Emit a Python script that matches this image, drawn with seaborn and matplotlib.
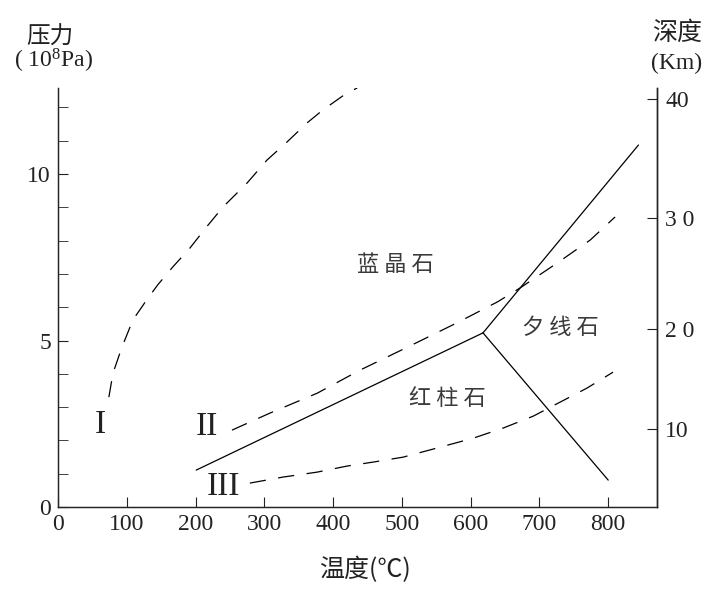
import numpy as np
import pandas as pd
import matplotlib
matplotlib.use("Agg")
import matplotlib.pyplot as plt
import seaborn as sns
from matplotlib.ticker import MultipleLocator

# curve I (dashed)
t_1 = [74, 80, 93, 109, 129, 145, 167, 192, 216, 240, 275, 304, 333, 362, 385, 420, 435]
p_1 = [3.30, 4.02, 4.80, 5.62, 6.22, 6.67, 7.21, 7.78, 8.41, 9.01, 9.73, 10.42, 10.96, 11.53, 11.92, 12.43, 12.58]

# curve II (dashed)
t_2 = [253, 308, 377, 439, 508, 580, 639, 672, 726, 774, 810]
p_2 = [2.31, 2.82, 3.42, 4.11, 4.80, 5.53, 6.16, 6.58, 7.33, 8.02, 8.71]

# curve III (dashed)
t_3 = [279, 327, 377, 420, 458, 502, 556, 604, 647, 691, 730, 769, 807]
p_3 = [0.72, 0.90, 1.05, 1.23, 1.35, 1.50, 1.80, 2.07, 2.37, 2.73, 3.15, 3.57, 4.05]

# phase boundaries (solid), triple point at (618, 5.23)
ky_and_t = [201, 618]
ky_and_p = [1.11, 5.23]
ky_sil_t = [618, 844]
ky_sil_p = [5.23, 10.87]
and_sil_t = [618, 800]
and_sil_p = [5.23, 0.81]

x_ticks = [0, 100, 200, 300, 400, 500, 600, 700, 800]
y_ticks = [0, 5, 10]
depth_pos = [2.34, 5.35, 8.68, 12.25]
depth_labels = ["10", "2 0", "3 0", "40"]

sns.set_style("ticks")
plt.rcParams["font.family"] = ["Liberation Serif", "DejaVu Serif"]
plt.rcParams["mathtext.default"] = "regular"
cjk = ["Noto Sans CJK SC", "DejaVu Sans"]

fig = plt.figure(figsize=(7.13, 5.91), dpi=100)
ax = fig.add_axes([0.0813, 0.142, 0.8402, 0.709])

dash = (0, (13, 10))
for t, p in [(t_1, p_1), (t_2, p_2), (t_3, p_3)]:
    df = pd.DataFrame({"t": t, "p": p})
    sns.lineplot(data=df, x="t", y="p", ax=ax, color="black", lw=0.9,
                 sort=False, estimator=None, linestyle=dash)
for t, p in [(ky_and_t, ky_and_p), (ky_sil_t, ky_sil_p), (and_sil_t, and_sil_p)]:
    df = pd.DataFrame({"t": t, "p": p})
    sns.lineplot(data=df, x="t", y="p", ax=ax, color="black", lw=0.9,
                 sort=False, estimator=None)

ax.set_xlim(0, 871)
ax.set_ylim(0, 12.58)
ax.set_xlabel("")
ax.set_ylabel("")
ax.set_xticks(x_ticks)
ax.set_yticks(y_ticks)
ax.yaxis.set_minor_locator(MultipleLocator(1))
ax.tick_params(axis="both", which="both", direction="in", color="#222222",
               labelsize=17, labelcolor="#222222", pad=5)
ax.tick_params(axis="y", which="major", length=7)
ax.tick_params(axis="y", which="minor", length=7)
ax.tick_params(axis="x", length=7)
ax.spines["top"].set_visible(False)
for s in ["left", "bottom", "right"]:
    ax.spines[s].set_linewidth(1.0)
    ax.spines[s].set_color("#222222")

ax2 = ax.twinx()
ax2.set_ylim(0, 12.58)
ax2.set_yticks(depth_pos)
ax2.set_yticklabels(depth_labels)
ax2.tick_params(axis="y", direction="in", length=7, labelsize=17,
                color="#222222", labelcolor="#222222", pad=6)
ax2.spines["top"].set_visible(False)
ax2.spines["right"].set_linewidth(1.0)
ax2.spines["right"].set_color("#222222")

# curve labels
ax.text(61, 2.46, "I", fontsize=24, ha="center", va="center", color="#222222")
ax.text(217, 2.4, "II", fontsize=24, ha="center", va="center", color="#222222")
ax.text(240, 0.62, "III", fontsize=24, ha="center", va="center", color="#222222")

# mineral fields
ax.text(490, 7.27, "蓝 晶 石", family=cjk, fontsize=16, ha="center", va="center", color="#3a3a3a")
ax.text(730, 5.38, "夕 线 石", family=cjk, fontsize=16, ha="center", va="center", color="#3a3a3a")
ax.text(566, 3.27, "红 柱 石", family=cjk, fontsize=16, ha="center", va="center", color="#3a3a3a")

# axis titles
fig.text(50 / 713, 1 - 37 / 591, "压力", family=cjk, fontsize=17, ha="center", va="center", color="#222222")
fig.text(53 / 713, 1 - 61 / 591, "( 10$^{8}$Pa)", fontsize=17, ha="center", va="center", color="#222222")
fig.text(677 / 713, 1 - 33 / 591, "深度", family=cjk, fontsize=18, ha="center", va="center", color="#222222")
fig.text(677 / 713, 1 - 63 / 591, "(Km)", fontsize=17, ha="center", va="center", color="#222222")
fig.text(365 / 713, 1 - 570 / 591, "温度(℃)", family=cjk, fontsize=18, ha="center", va="center", color="#222222")

fig.savefig("out.png", dpi=100)
